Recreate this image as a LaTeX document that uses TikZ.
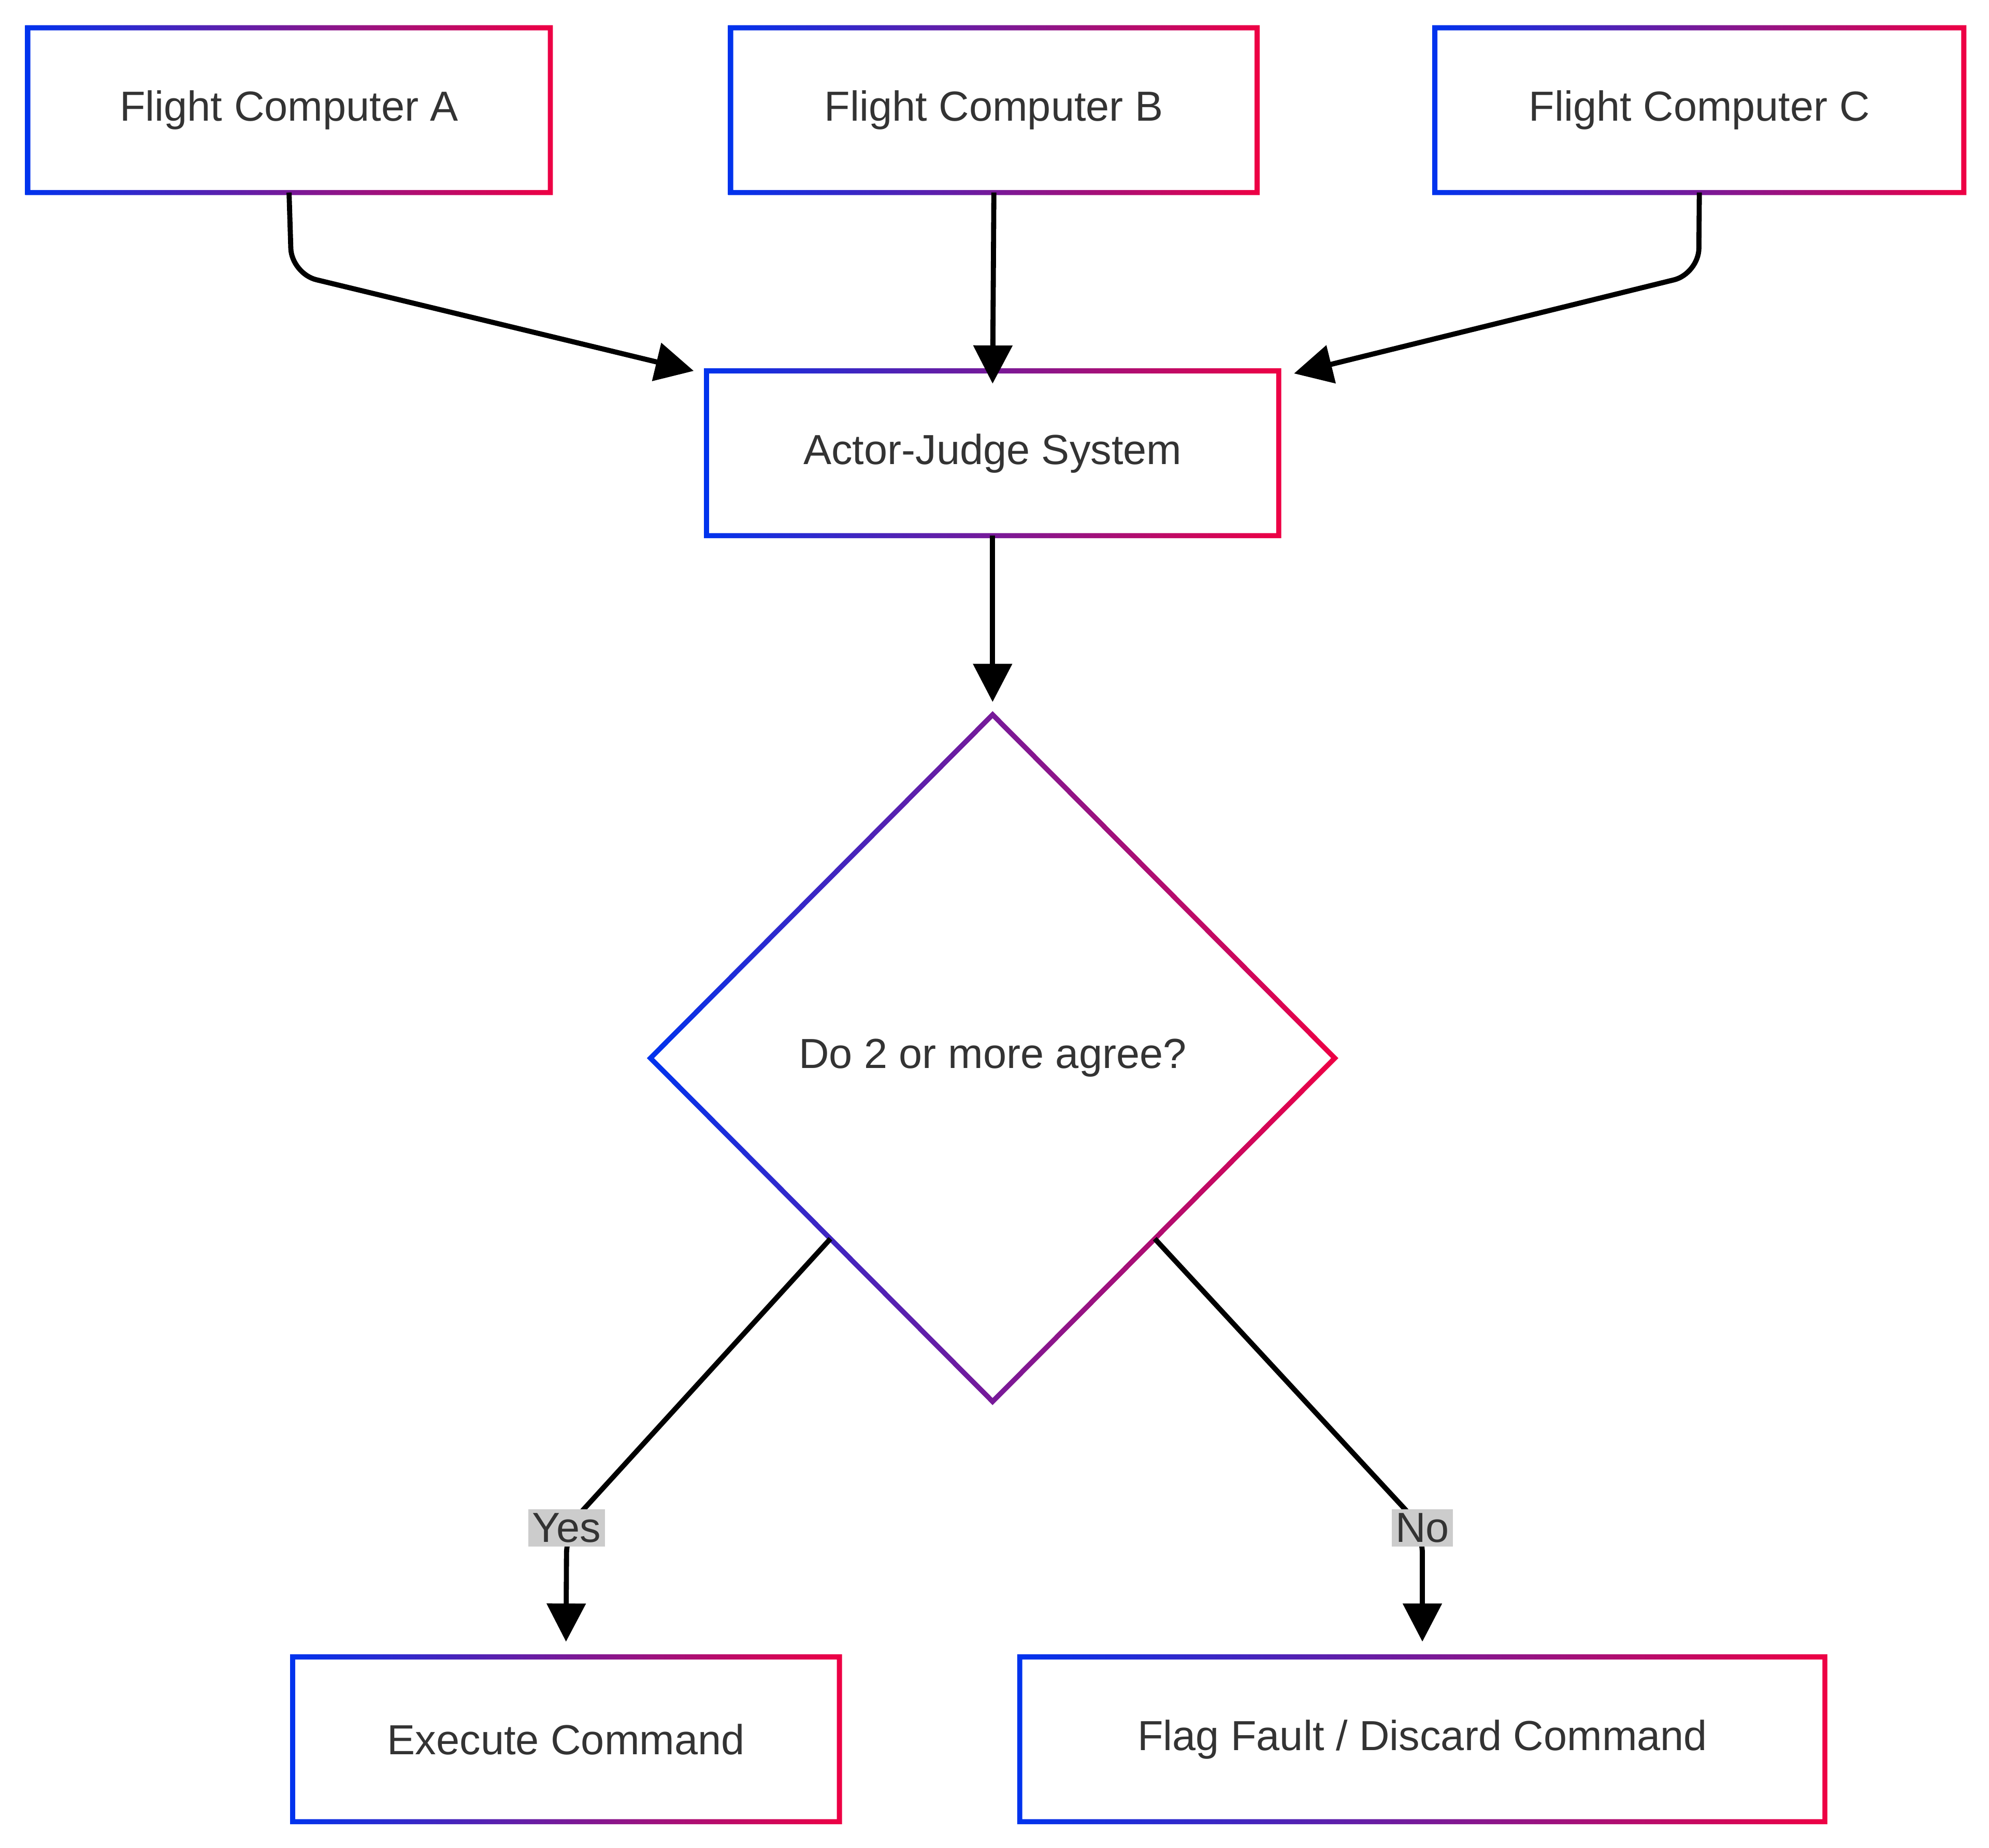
\documentclass[tikz,border=0pt]{standalone}
\usepackage{fontspec}
\setmainfont{Liberation Sans}
\usetikzlibrary{shapes.geometric,arrows.meta,calc}
\definecolor{gA}{HTML}{0033EE}
\definecolor{gB}{HTML}{EE0044}
\definecolor{txt}{HTML}{333333}
\tikzset{
  box/.style={shape=rectangle, draw=none, inner sep=0pt, text=txt,
    minimum height=129pt, font=\fontsize{33}{40}\selectfont},
  lbl/.style={fill=black!20, text=txt, inner sep=3pt, font=\fontsize{33}{40}\selectfont},
  link/.style={line width=4pt, rounded corners=20pt, -{Triangle[length=30pt,width=30pt]}}
}
% gradient outline of a rectangular node
\newcommand\gradbox[1]{%
  \shade[left color=gA, right color=gB, even odd rule]
    ([shift={(-2pt,2pt)}]#1.north west) rectangle ([shift={(2pt,-2pt)}]#1.south east)
    ([shift={(2pt,-2pt)}]#1.north west) rectangle ([shift={(-2pt,2pt)}]#1.south east);}
\begin{document}
\begin{tikzpicture}[x=1pt, y=-1pt]
\useasboundingbox (0,0) rectangle (1562,1451);
\node[box, minimum width=410pt] (A) at (227,86.5) {Flight Computer A};
\node[box, minimum width=413pt] (B) at (780.5,86.5) {Flight Computer B};
\node[box, minimum width=415pt] (C) at (1334.5,86.5) {Flight Computer C};
\node[box, minimum width=449pt] (J) at (779.5,356) {Actor-Judge System};
\node[box, shape=diamond, minimum width=537pt, minimum height=539pt] (D) at (779.5,831) {Do 2 or more agree?};
\node[box, minimum width=429pt] (E) at (444.5,1366) {Execute Command};
\node[box, minimum width=632pt] (F) at (1117,1366) {Flag Fault / Discard Command};

\gradbox{A}\gradbox{B}\gradbox{C}\gradbox{J}\gradbox{E}\gradbox{F}
\shade[left color=gA, right color=gB, even odd rule]
  ([yshift=2.8pt]D.north) -- ([xshift=2.8pt]D.east) -- ([yshift=-2.8pt]D.south) -- ([xshift=-2.8pt]D.west) -- cycle
  ([yshift=-2.8pt]D.north) -- ([xshift=-2.8pt]D.east) -- ([yshift=2.8pt]D.south) -- ([xshift=2.8pt]D.west) -- cycle;

\coordinate (dl) at ($(D.west)!0.526!(D.south)$);
\coordinate (dr) at ($(D.east)!0.526!(D.south)$);

\draw[link] (A.south) -- (229,215) -- ($(J.north west)+(-10pt,0)$);
\draw[link] (B.south) -- ($(J.north)+(0,-10pt)$);
\draw[link] (C.south) -- (1334,215) -- ($(J.north east)+(12pt,-2pt)$);
\draw[link] (J.south) -- ($(D.north)+(0,10pt)$);
\draw[link] (dl) -- (445,1200) -- ($(E.north)+(0,12pt)$);
\draw[link] (dr) -- (1117,1200) -- ($(F.north)+(0,12pt)$);
\node[lbl] (yes) at (445,1200) {Yes};
\node[lbl] (no) at (1117,1200) {No};
\end{tikzpicture}
\end{document}
